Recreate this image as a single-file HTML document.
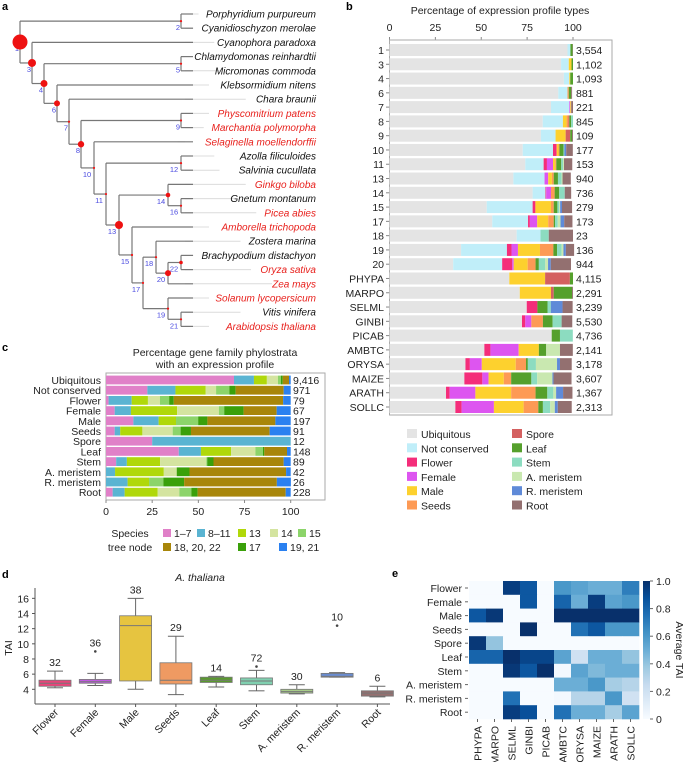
<!DOCTYPE html>
<html><head><meta charset="utf-8"><style>
body{margin:0;background:#fff}
svg{display:block;font-family:"Liberation Sans",sans-serif}
</style></head><body>
<svg id="fig" width="685" height="762" viewBox="0 0 685 762" xmlns="http://www.w3.org/2000/svg"></svg>
<script>
// ---------- Panel b data ----------
const bRows=["1","3","4","6","7","8","9","10","11","13","14","15","17","18","19","20","PHYPA","MARPO","SELML","GINBI","PICAB","AMBTC","ORYSA","MAIZE","ARATH","SOLLC"];
const bCounts=["3,554","1,102","1,093","881","221","845","109","177","153","940","736","279","173","23","136","944","4,115","2,291","3,239","5,530","4,736","2,141","3,178","3,607","1,367","2,313"];
const bTypes=["Ubiquitous","Not conserved","Flower","Female","Male","Seeds","Spore","Leaf","Stem","A. meristem","R. meristem","Root"];
const bUbiq=[97,93.5,95,92,88,83.5,82.5,72.6,74,67.5,78,53,56,69.3,39,34.7,65.3,71,74.8,72.2,88.4,51.7,41.4,40.8,30.8,35.9];
const bNotCons=[1.6,4.2,3,5,10,11,8,16.5,10,17,7,25,19.5,13,25,26.7,0,0,0,0,0,0,0,0,0,0];
const bFlower=[0,0,0,0,0,0,0,2,1.8,0,0.4,1.5,1,0,2.5,5.5,0,0,5.8,1.8,0,3.3,2.4,9.8,2,3.4];
const bFemale=[0,0,0,0,0.5,0,0,0,3.3,2,2.6,0,4,0,3.5,0.8,0,0,0,3.3,0,15.4,6.5,3.4,14,17.6];
const bMale=[0,1.5,0.5,0,0.5,2,5.5,1,1.3,2,0,8.5,6,0,12,7.6,19.5,17,0,0,0,11,18.5,8.3,19.5,16.2];
const bSeeds=[0,0,0,0.7,0,1,0,0.5,0.5,1,2,1.5,3,0,7.3,4.3,0,0,0,6.3,0,0,5.6,4,13.3,8];
const bSpore=[0,0,0,0,0,0.5,2.5,0,0,0,0,0,0,0,0,0,13.5,1.5,0,0,0,0,0,0,0,0];
const bLeaf=[1.2,0.8,1.5,1.3,0,1,1,2.2,2.7,2.3,2.5,2,0.7,0,2,1.8,1.7,10,5.5,5.3,4.5,4,1,11,6.4,2.5];
const bStem=[0,0,0,0,0,1,0,0.5,1,2,3,1,1.5,4.5,2.5,3.5,0,0,1.8,4.9,7,0,4.4,3.2,3.3,4];
const bAMer=[0,0,0,0,0,0,0,0,0.5,0.5,0,0.5,1.5,0,1,1.5,0,0,0,0,0,7.5,11.5,8.3,1.5,2.5];
const bRMer=[0,0,0,0,0,0,0,1,0,0,0,1,2,0,1.3,1.5,0,0,6.4,0,0,0,1.6,0.6,3.8,1.6];
const bRoot=[0.2,0,0,0.5,1,0,0.5,3.6,4.5,4.5,3.5,5.5,4.5,13.2,4.5,11,0,0.5,5.5,5.8,0,7,6.4,9.8,5.1,7.6];
const bColors=["#e4e4e4","#c0eef9","#f42d7a","#dd55f0","#fdd12e","#fd9a55","#d46060","#55a02c","#8cdcc0","#c9e8b0","#5f8ad8","#937070"];
// ---------- Panel c data ----------
const cRows=["Ubiquitous","Not conserved","Flower","Female","Male","Seeds","Spore","Leaf","Stem","A. meristem","R. meristem","Root"];
const cCounts=["9,416","971","79","67","197","91","12","148","89","42","26","228"];
const cNodes=["1–7","8–11","13","14","15","17","18, 20, 22","19, 21"];
const cN1_7=[69.3,22.4,1.4,4.7,14.8,4.7,25,39.4,5.5,0,0,3.6];
const cN8_11=[10.8,15.2,12.5,8.8,13.7,3,75,12,5.8,4.9,11.7,6.5];
const cN13=[7,16.4,8.8,25,9.4,12,0,16.3,18,26.4,11.6,17.9];
const cN14=[6,5.6,6.5,22.6,0,16.4,0,13.2,25,7,0,11.7];
const cN15=[1.6,7.2,5,2.9,12,4.3,0,4.1,0.5,0,7.8,6.5];
const cN17=[1,3.4,2.5,10.5,5,5.6,0,0.7,3.4,6.9,11.2,3.4];
const cN18=[3.4,26,59.2,17.9,36.8,42.6,0,12.3,38,52.3,50.2,47.7];
const cN19=[0.9,3.8,4.1,7.6,8.3,11.4,0,2,3.8,2.5,7.6,2.7];
const cColors=["#e080c8","#5ab4d2","#b0d80a","#d4e4a0","#8cd46a","#3aa00a","#a8860a","#2a80f0"];
// ---------- Panel d data ----------
const dCats=["Flower","Female","Male","Seeds","Leaf","Stem","A. meristem","R. meristem","Root"];
const dQ1=[4.4,4.8,5.1,4.7,4.9,4.6,3.5,5.6,3.1];
const dMed=[4.8,5.0,12.4,5.2,5.2,5.1,3.7,5.7,3.5];
const dQ3=[5.2,5.3,13.7,7.5,5.6,5.5,4.0,6.1,3.8];
const dLo=[4.2,4.5,4.0,3.3,4.3,3.8,3.4,5.6,3.0];
const dHi=[6.4,6.1,16,11,5.7,6.5,4.6,6.2,4.4];
const dMax=[6.4,9,16,11,5.7,7,4.6,12.4,4.4];
const dN=["32","36","38","29","14","72","30","10","6"];
const dTicks=[4,6,8,10,12,14,16];
const dColors=["#e8457a","#c05ae0","#e6c440","#ef9a62","#5a9a2e","#80d0b0","#a8cc8a","#6a8cd0","#957070"];
// ---------- Panel e data ----------
const eRows=["Flower","Female","Male","Seeds","Spore","Leaf","Stem","A. meristem","R. meristem","Root"];
const eCols=["PHYPA","MARPO","SELML","GINBI","PICAB","AMBTC","ORYSA","MAIZE","ARATH","SOLLC"];
const eVals=[
[0,0,0.95,0.85,0,0.6,0.55,0.5,0.5,0.7],
[0,0,0,0.85,0,0.8,0.5,0.95,0.55,0.6],
[0.85,0.97,0,0,0,1,1,1,1,1],
[0,0,0,1,0,0,0.75,0.85,0.6,0.6],
[0.97,0.4,0,0,0,0,0,0,0,0],
[0.8,0.8,1,0.92,0.92,0.55,0.2,0.5,0.5,0.4],
[0,0,0.97,0.85,1,0.02,0.55,0.45,0.5,0.5],
[0,0,0,0,0,0.5,0.5,0.6,0.35,0.3],
[0,0,0.75,0,0,0.02,0.3,0.3,0.6,0.2],
[0,0,0.95,0.88,0,0.75,0.5,0.5,0.35,0.55]];
const eTicks=[0,0.2,0.4,0.6,0.8,1.0];
// ---------- Tree data ----------
const leaves=[["Porphyridium purpureum",0],["Cyanidioschyzon merolae",0],["Cyanophora paradoxa",0],["Chlamydomonas reinhardtii",0],["Micromonas commoda",0],["Klebsormidium nitens",0],["Chara braunii",0],["Physcomitrium patens",1],["Marchantia polymorpha",1],["Selaginella moellendorffii",1],["Azolla filiculoides",0],["Salvinia cucullata",0],["Ginkgo biloba",1],["Gnetum montanum",0],["Picea abies",1],["Amborella trichopoda",1],["Zostera marina",0],["Brachypodium distachyon",0],["Oryza sativa",1],["Zea mays",1],["Solanum lycopersicum",1],["Vitis vinifera",0],["Arabidopsis thaliana",1]];

const S=document.getElementById('fig');
const NS="http://www.w3.org/2000/svg";
function mk(tag,attrs,parent){const e=document.createElementNS(NS,tag);for(const k in attrs)e.setAttribute(k,attrs[k]);(parent||S).appendChild(e);return e;}
function txt(x,y,s,size,anchor,extra,parent){const e=mk('text',Object.assign({x:x,y:y,'font-size':size,'text-anchor':anchor||'start',fill:'#222'},extra||{}),parent);e.textContent=s;return e;}

// panel letters
[["a",2,10],["b",346,10],["c",2,351],["d",2,578],["e",392,577]].forEach(p=>{const t=txt(p[1],p[2],p[0],11,'start',{'font-weight':'bold',fill:'#000'});});

// ---------- Tree (a) ----------
const gT=mk('g',{});
const ly=i=>14+i*14.2;
const nodes={};
function node(id,x,a,b){const y=(a+b)/2;nodes[id]={x:x,y:y};return y;}
const tree=[["2",181,0,1],["5",181,3,4],["9",181,7,8],["12",181,10,11],["16",181,13,14],["22",181,17,18],["21",181,21,22],
["20",168,"22",19],["18",156,16,"20"],["19",168,20,"21"],["17",143,"18","19"],["15",132,15,"17"],["14",168,12,"16"],
["13",119,"14","15"],["11",106,"12","13"],["10",94,9,"11"],["8",81,"9","10"],["7",69,6,"8"],["6",57,5,"7"],["4",44,"5","6"],["3",32,2,"4"],["1",20,"2","3"]];
const cy=c=>typeof c==='number'?ly(c):nodes[c].y;
tree.forEach(n=>{node(n[0],n[1],cy(n[2]),cy(n[3]));});
leaves.forEach((l,i)=>{mk('line',{x1:185,y1:ly(i),x2:314-l[0].length*5.25,y2:ly(i),stroke:'#dcdcdc','stroke-width':1},gT);});
tree.forEach(n=>{const x=n[1];[n[2],n[3]].forEach(c=>{const y=cy(c);const x2=typeof c==='number'?193:nodes[c].x;
mk('line',{x1:x,y1:nodes[n[0]].y,x2:x,y2:y,stroke:'#777','stroke-width':1.2},gT);
mk('line',{x1:x,y1:y,x2:x2,y2:y,stroke:'#777','stroke-width':1.2},gT);});
txt(x+(n[0].length>1?-7:-3),nodes[n[0]].y+9,n[0],7.5,'middle',{fill:'#4a4ae0'},gT);});
const rad={"1":7.5,"3":4,"4":3.5,"6":3,"8":3.2,"13":4,"14":2.3,"20":3,"22":1.8};
tree.forEach(n=>{const r=rad[n[0]]||1.1;mk('circle',{cx:n[1],cy:nodes[n[0]].y,r:r,fill:'#ee1111'},gT);});
leaves.forEach((l,i)=>{
const t=txt(316,ly(i)+3.5,l[0],10,'end',{'font-style':'italic',fill:l[1]?'#e8201c':'#111'},gT);
});

// ---------- Panel b ----------
const gB=mk('g',{});
const bx=v=>389.5+v*1.835, by=i=>50+i*14.28;
txt(500,14,"Percentage of expression profile types",10.5,'middle',{},gB);
[0,25,50,75,100].forEach(v=>{txt(bx(v),31,String(v),10.5,'middle',{},gB);mk('line',{x1:bx(v),y1:37,x2:bx(v),y2:40,stroke:'#888'},gB);});
mk('rect',{x:389.5,y:40,width:222.5,height:375,fill:'none',stroke:'#aaa','stroke-width':1},gB);
const bSeries=[bUbiq,bNotCons,bFlower,bFemale,bMale,bSeeds,bSpore,bLeaf,bStem,bAMer,bRMer,bRoot];
bRows.forEach((r,i)=>{let acc=0;const y=by(i);
 bSeries.forEach((s,k)=>{const v=s[i];if(v<=0)return;const rc=mk('rect',{x:bx(acc),y:y-6,width:v*1.835,height:12,fill:bColors[k]},gB);
 acc+=v;});
 txt(384,y+4,r,10.5,'end',{},gB);mk('line',{x1:386,y1:y,x2:389.5,y2:y,stroke:'#888'},gB);
 txt(576,y+4,bCounts[i],10.5,'start',{},gB);});
const gBL=mk('g',{});
bTypes.forEach((t,k)=>{const col=k<6?0:1,row=k%6;const x=col?512:407,y=434+row*14.3;
 const r=mk('rect',{x:x,y:y-5,width:10,height:9,fill:bColors[k]},gBL);
 txt(x+14,y+4,t,10.5,'start',{},gBL);});

// ---------- Panel c ----------
const gC=mk('g',{});
const cx=v=>106+v*1.847, cyy=i=>380+i*10.2;
txt(215,356,"Percentage gene family phylostrata",10.5,'middle',{},gC);
txt(215,368,"with an expression profile",10.5,'middle',{},gC);
mk('rect',{x:106,y:373,width:219,height:127,fill:'none',stroke:'#aaa'},gC);
const cSeries=[cN1_7,cN8_11,cN13,cN14,cN15,cN17,cN18,cN19];
cRows.forEach((r,i)=>{let acc=0;const y=cyy(i);
 cSeries.forEach((s,k)=>{const v=s[i];if(v<=0)return;const rc=mk('rect',{x:cx(acc),y:y-4.4,width:v*1.847,height:8.8,fill:cColors[k]},gC);
 acc+=v;});
 txt(101,y+4,r,10.5,'end',{},gC);txt(293,y+4,cCounts[i],10.5,'start',{},gC);});
[0,25,50,75,100].forEach(v=>{mk('line',{x1:cx(v),y1:500,x2:cx(v),y2:503,stroke:'#888'},gC);txt(cx(v),515,String(v),10.5,'middle',{},gC);});
txt(130,537,"Species",10.5,'middle',{},gC);txt(130,551,"tree node",10.5,'middle',{},gC);
const cLeg=[[163,533],[197,533],[238,533],[270,533],[298,533],[238,547],[163,547],[279,547]];
cNodes.forEach((n,k)=>{const p=cLeg[k];const r=mk('rect',{x:p[0],y:p[1]-4,width:8,height:8,fill:cColors[k]},gC);
 txt(p[0]+11,p[1]+4,n,10.5,'start',{},gC);});

// ---------- Panel d ----------
const gD=mk('g',{});
const dy=v=>689.3-(v-4)*7.58, dxc=i=>55+i*40.3;
txt(200,581,"A. thaliana",10.5,'middle',{'font-style':'italic'},gD);
mk('line',{x1:35,y1:588,x2:35,y2:704,stroke:'#555'},gD);mk('line',{x1:35,y1:704,x2:390,y2:704,stroke:'#555'},gD);
dTicks.forEach(v=>{mk('line',{x1:32,y1:dy(v),x2:35,y2:dy(v),stroke:'#555'},gD);txt(29,dy(v)+4,String(v),10.5,'end',{},gD);});
txt(12,648,"TAI",10.5,'middle',{transform:'rotate(-90 12 648)'},gD);
dCats.forEach((c,i)=>{const x=dxc(i),w=32;
 mk('line',{x1:x,y1:dy(dLo[i]),x2:x,y2:dy(dHi[i]),stroke:'#666'},gD);
 [dLo[i],dHi[i]].forEach(v=>mk('line',{x1:x-8,y1:dy(v),x2:x+8,y2:dy(v),stroke:'#666'},gD));
 const b=mk('rect',{x:x-w/2,y:dy(dQ3[i]),width:w,height:dy(dQ1[i])-dy(dQ3[i]),fill:dColors[i],stroke:'#777','stroke-width':0.8},gD);
 
 mk('line',{x1:x-w/2,y1:dy(dMed[i]),x2:x+w/2,y2:dy(dMed[i]),stroke:'#777'},gD);
 if(dMax[i]>dHi[i])mk('circle',{cx:x,cy:dy(dMax[i]),r:1.3,fill:'#444'},gD);
 txt(x,dy(dMax[i])-5,dN[i],10.5,'middle',{},gD);
 mk('line',{x1:x,y1:704,x2:x,y2:707,stroke:'#555'},gD);
 txt(x+4,713,c,10.5,'end',{transform:`rotate(-45 ${x+4} 713)`},gD);});

// ---------- Panel e ----------
const gE=mk('g',{});
const stops=["#f7fbff","#deebf7","#c6dbef","#9ecae1","#6baed6","#4292c6","#2171b5","#08519c","#08306b"];
function hex(h){return [1,3,5].map(i=>parseInt(h.substr(i,2),16));}
function blues(v){v=Math.max(0,Math.min(1,v));const p=v*8,i=Math.min(7,Math.floor(p)),f=p-i;const a=hex(stops[i]),b=hex(stops[i+1]);return 'rgb('+a.map((c,k)=>Math.round(c+(b[k]-c)*f)).join(',')+')';}
const ex=j=>469+j*17, ey=i=>581+i*13.8;
eRows.forEach((r,i)=>{eCols.forEach((c,j)=>{const rc=mk('rect',{x:ex(j),y:ey(i),width:17.3,height:14.1,fill:blues(eVals[i][j])},gE);
 });
 txt(462,ey(i)+11,r,10.5,'end',{},gE);mk('line',{x1:465,y1:ey(i)+7,x2:468,y2:ey(i)+7,stroke:'#666'},gE);});
eCols.forEach((c,j)=>{const x=ex(j)+8.5;mk('line',{x1:x,y1:719,x2:x,y2:722,stroke:'#666'},gE);
 txt(x+4,726,c,10.5,'end',{transform:`rotate(-90 ${x+4} 726)`},gE);});
const grad=mk('linearGradient',{id:'cb',x1:0,y1:1,x2:0,y2:0},mk('defs',{},gE));
stops.forEach((s,k)=>mk('stop',{offset:k/8,'stop-color':s},grad));
const cbr=mk('rect',{x:643,y:581,width:7,height:138,fill:'url(#cb)'},gE);
eTicks.forEach(v=>{const y=719-v*138;mk('line',{x1:650,y1:y,x2:653,y2:y,stroke:'#666'},gE);txt(656,y+4,v===0?'0':v.toFixed(1),10.5,'start',{},gE);});
txt(676,650,"Average TAI",10.5,'middle',{transform:'rotate(90 676 650)'},gE);
</script>
</body></html>
